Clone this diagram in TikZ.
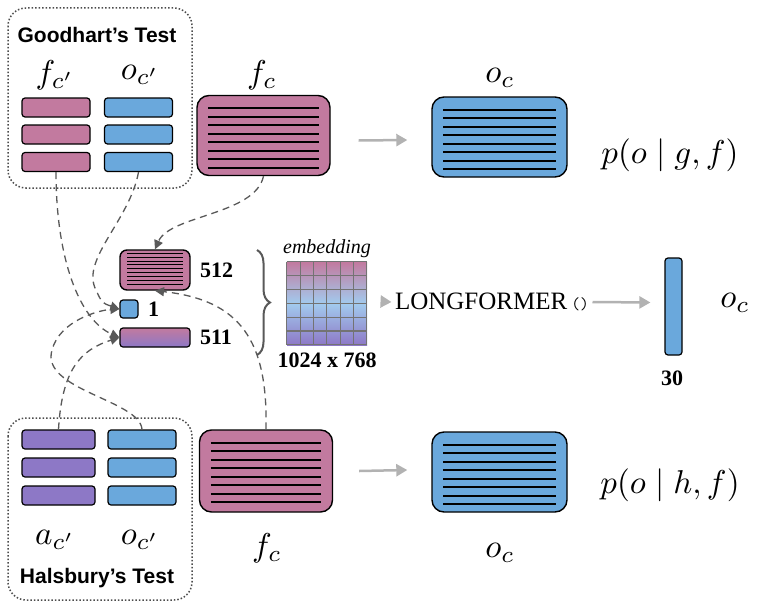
\documentclass[tikz,border=0pt]{standalone}
\usepackage{amsmath}
\usepackage{fontspec}
\setmainfont{Liberation Serif}
\newfontfamily\headfont{Liberation Sans}
\usetikzlibrary{positioning,calc,arrows.meta,decorations.pathreplacing}
\definecolor{fpink}{HTML}{C27A9F}
\definecolor{oblue}{HTML}{6AA8DC}
\definecolor{apurple}{HTML}{8D78C6}
\definecolor{lblue}{HTML}{A2CBEE}
\newcommand{\biglbl}[1]{\scalebox{3.3}{$#1$}}
\tikzset{%
  bar/.style = {rectangle,draw,line width=1.2pt,rounded corners=3pt,
        minimum width=68pt,minimum height=19pt,inner sep=0pt},
  doc/.style = {rectangle,draw,line width=1.4pt,rounded corners=12pt,
        minimum width=133pt,minimum height=80pt,inner sep=0pt},
  link/.style = {dash pattern=on 7pt off 5pt,draw=black!65,line width=1.3pt,
        -{Triangle[length=9pt,width=9pt]}},
  flow/.style = {draw=black!30,line width=2.5pt,-{Triangle[length=11pt,width=12pt]}},
  group/.style = {draw=black!70,dotted,line width=1.5pt,rounded corners=18pt},
  lbl/.style = {font=\normalsize},
  num/.style = {font=\fontsize{22}{22}\selectfont\bfseries},
  head/.style = {font=\fontsize{21}{21}\selectfont\headfont\bfseries}
}
\begin{document}
\begin{tikzpicture}[x=1pt,y=-1pt]
    \useasboundingbox (0,0) rectangle (765,610);
    % Goodhart's test
    \draw[group] (8,8) rectangle (192,188);
    \node[head] (gtitle) at (97,35) {Goodhart’s Test};
    \node[lbl] (gfl) at (55,75) {\biglbl{f_{c'}}};
    \node[lbl] (gol) at (140,75) {\biglbl{o_{c'}}};
    \foreach \i/\y in {1/107.5,2/134.5,3/162} {
      \node[bar,fill=fpink] (gf\i) at (56,\y) {};
      \node[bar,fill=oblue] (go\i) at (138.5,\y) {};
    }
    \node[doc,fill=fpink] (fct) at (263.5,135.5) {};
    \node[lbl] (fctl) at (262,75) {\biglbl{f_c}};
    \node[doc,fill=oblue,minimum width=135pt] (oct) at (499.5,137) {};
    \node[lbl] (octl) at (500,78) {\biglbl{o_c}};
    \node[lbl] (pg) at (670,155) {\biglbl{p(o\mid g,f)}};
    \draw[flow] (fct.east) ++(28,5) coordinate (ft1) -- ($(oct.west)+(-24,3)$) coordinate (ft2);
    % Halsbury's test
    \draw[group] (8,418) rectangle (192,600);
    \node[head] (htitle) at (97,578) {Halsbury’s Test};
    \node[lbl] (hal) at (55,540) {\biglbl{a_{c'}}};
    \node[lbl] (hol) at (140,540) {\biglbl{o_{c'}}};
    \foreach \i/\y in {1/439.5,2/467.5,3/495.5} {
      \node[bar,fill=apurple,minimum width=73pt] (ha\i) at (58.5,\y) {};
      \node[bar,fill=oblue] (ho\i) at (142,\y) {};
    }
    \node[doc,fill=fpink,minimum height=82pt] (fcb) at (266,471) {};
    \node[lbl] (fcbl) at (267,548) {\biglbl{f_c}};
    \node[doc,fill=oblue,minimum width=135pt] (ocb) at (499.5,472) {};
    \node[lbl] (ocbl) at (500,553) {\biglbl{o_c}};
    \node[lbl] (ph) at (670,485) {\biglbl{p(o\mid h,f)}};
    \draw[flow] (fcb.east) ++(26,0) coordinate (fb1) -- ($(ocb.west)+(-24,-2)$) coordinate (fb2);
    % text lines
    \foreach \n in {fct,oct,fcb,ocb}
      \foreach \i in {1,...,8}
        \draw[line width=2.3pt] ($(\n.north west)+(12,5+\i*8.5)$) -- ($(\n.north east)+(-12,5+\i*8.5)$);
    % input
    \node[doc,fill=fpink,rounded corners=7pt,minimum width=70pt,minimum height=40pt] (in512) at (155,270) {};
    \foreach \i in {1,...,9}
      \draw[line width=0.9pt] ($(in512.north west)+(8,\i*3.9)$) -- ($(in512.north east)+(-8,\i*3.9)$);
    \node[num,right=6pt of in512] (n512) {512};
    \node[bar,fill=oblue,minimum width=18pt,minimum height=18pt] (one) at (129,309) {};
    \node[num,right=6pt of one] (n1) {1};
    \node[bar,minimum width=70pt,top color=fpink,bottom color=apurple] (in511) at (155,337.5) {};
    \node[num,right=6pt of in511] (n511) {511};
    \draw[decorate,decoration={brace,amplitude=13pt},draw=black!65,line width=2pt]
      (257,250) -- (257,355);
    % embedding
    \node[rectangle,minimum width=80pt,minimum height=83pt,inner sep=0pt,
      top color=fpink,bottom color=apurple,middle color=lblue] (grid) at (327,303.5) {};
    \foreach \i in {0,...,6} {
      \draw[black!55,line width=1.1pt] ($(grid.north west)+(\i*80/6,0)$) -- ($(grid.south west)+(\i*80/6,0)$);
      \draw[black!55,line width=1.1pt] ($(grid.north west)+(0,\i*83/6)$) -- ($(grid.north east)+(0,\i*83/6)$);
    }
    \node[above=1pt of grid] (embl) {\scalebox{2}{$\mathit{embedding}$}};
    \node[num,below=4pt of grid] (dims) {1024 x 768};
    \node[font=\fontsize{25}{25}\selectfont] (lf) at (492,302) {LONGFORMER\,\texttt{\fontsize{17}{17}\selectfont()}};
    \draw[flow] ($(grid.east)+(14,-2)$) coordinate (g1) -- (lf.west);
    \node[bar,fill=oblue,minimum width=17pt,minimum height=97pt] (vec) at (673.5,306.5) {};
    \draw[flow] (lf.east) -- ($(vec.west)+(-14,-4)$) coordinate (v1);
    \node[lbl] (vecl) at (735,303) {\biglbl{o_c}};
    \node[num] (n30) at (672,378) {30};
    % connections
    \draw[link] (gf3.south) .. controls (56,260) and (80,320) .. (in511.west);
    \draw[link] (go3.south) .. controls (130,220) and (80,260) .. (96,290) .. controls (102,303) .. (one.west);
    \draw[link] (fct.south) .. controls (255,215) and (170,215) .. (in512.north);
    \draw[link] (ha1.north) .. controls (62,370) and (80,350) .. (in511.west);
    \draw[link] (ho1.north) .. controls (140,400) and (40,390) .. (52,350) .. controls (60,320) and (100,310) .. (one.west);
    \draw[link] (fcb.north) .. controls (268,340) and (240,300) .. (in512.south);
\end{tikzpicture}
\end{document}
